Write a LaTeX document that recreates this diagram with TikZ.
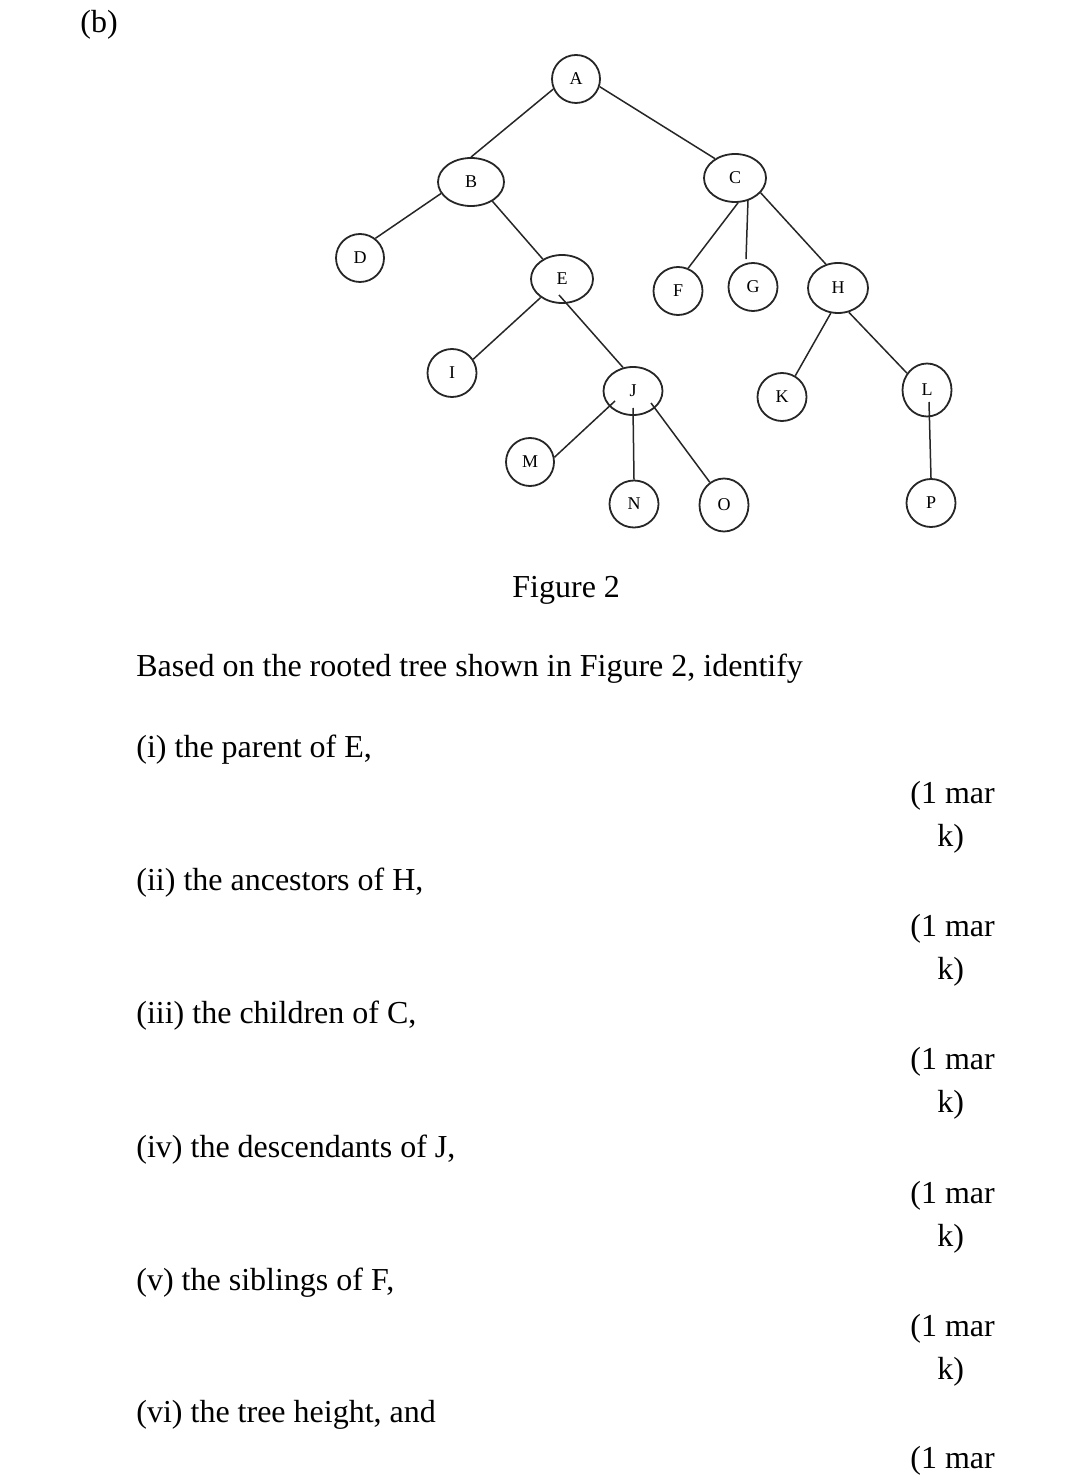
\documentclass[tikz,border=0pt]{standalone}
\usepackage{fontspec}
\setmainfont{Liberation Serif}
\usetikzlibrary{shapes.geometric,calc}
\begin{document}
\begin{tikzpicture}[x=0.5pt,y=-0.5pt,
  tnode/.style={ellipse,draw=black!85,line width=0.9pt,inner sep=0pt,font=\fontsize{9}{10}\selectfont},
  edge/.style={draw=black!85,line width=0.75pt},
  txt/.style={anchor=base west,inner sep=0pt,font=\fontsize{16}{19}\selectfont}]
\useasboundingbox (0,0) rectangle (1080,1475);
% tree nodes
\node[tnode,minimum width=24pt,minimum height=24pt] (A) at (576,79) {A};
\node[tnode,minimum width=33pt,minimum height=24pt] (B) at (471,182) {B};
\node[tnode,minimum width=31pt,minimum height=24pt] (C) at (735,178) {C};
\node[tnode,minimum width=24pt,minimum height=24pt] (D) at (360,258) {D};
\node[tnode,minimum width=31pt,minimum height=24pt] (E) at (562,279) {E};
\node[tnode,minimum width=24.5pt,minimum height=24pt] (F) at (678,291) {F};
\node[tnode,minimum width=24.5pt,minimum height=24pt] (G) at (753,287) {G};
\node[tnode,minimum width=30pt,minimum height=25pt] (H) at (838,288) {H};
\node[tnode,minimum width=24.5pt,minimum height=24pt] (I) at (452,373) {I};
\node[tnode,minimum width=29.5pt,minimum height=24pt] (J) at (633,391) {J};
\node[tnode,minimum width=24.5pt,minimum height=24pt] (K) at (782,397) {K};
\node[tnode,minimum width=24.5pt,minimum height=26.5pt] (L) at (927,390) {L};
\node[tnode,minimum width=24pt,minimum height=24pt] (M) at (530,462) {M};
\node[tnode,minimum width=24.5pt,minimum height=23.5pt] (N) at (634,504) {N};
\node[tnode,minimum width=24.5pt,minimum height=26.5pt] (O) at (724,505) {O};
\node[tnode,minimum width=24.5pt,minimum height=24pt] (P) at (931,503) {P};
% edges
\draw[edge] (A.204) -- (B.north);
\draw[edge] (A.342) -- (C.136);
\draw[edge] (B.201) -- (D.52);
\draw[edge] (B.318) -- (E.134);
\draw[edge] (E.221) -- (I.33);
\draw[edge] ($(E.center)+(-3,16)$) -- (J.113);
\draw[edge] (C.277) -- (F.66);
\draw[edge] ($(C.center)+(13,22)$) -- ($(G.north)+(-7,-3)$);
\draw[edge] (C.330) -- (H.117);
\draw[edge] (H.254) -- (K.58);
\draw[edge] (H.294) -- (L.140);
\draw[edge] ($(J.center)+(-18,10)$) -- (M.11);
\draw[edge] ($(J.center)+(0,17)$) -- (N.north);
\draw[edge] ($(J.center)+(18,12)$) -- (O.122);
\draw[edge] ($(L.center)+(2,12)$) -- (P.north);
% text
\node[txt] (lb) at (80,33) {(b)};
\node[txt] (fig) at (512,597) {Figure 2};
\node[txt] (intro) at (136,676) {Based on the rooted tree shown in Figure 2, identify};
\node[txt] (q1) at (136,757) {(i) the parent of E,};
\node[txt] (q2) at (136,890) {(ii) the ancestors of H,};
\node[txt] (q3) at (136,1023) {(iii) the children of C,};
\node[txt] (q4) at (136,1157) {(iv) the descendants of J,};
\node[txt] (q5) at (136,1290) {(v) the siblings of F,};
\node[txt] (q6) at (136,1422) {(vi) the tree height, and};
\foreach \y [count=\i] in {803,936,1069,1203,1336} {
  \node[txt] (m\i) at (910,\y) {(1 mar};
  \node[txt] (k\i) at (937,\y+43) {k)};
}
\node[txt] (m6) at (910,1468) {(1 mar};
\end{tikzpicture}
\end{document}
